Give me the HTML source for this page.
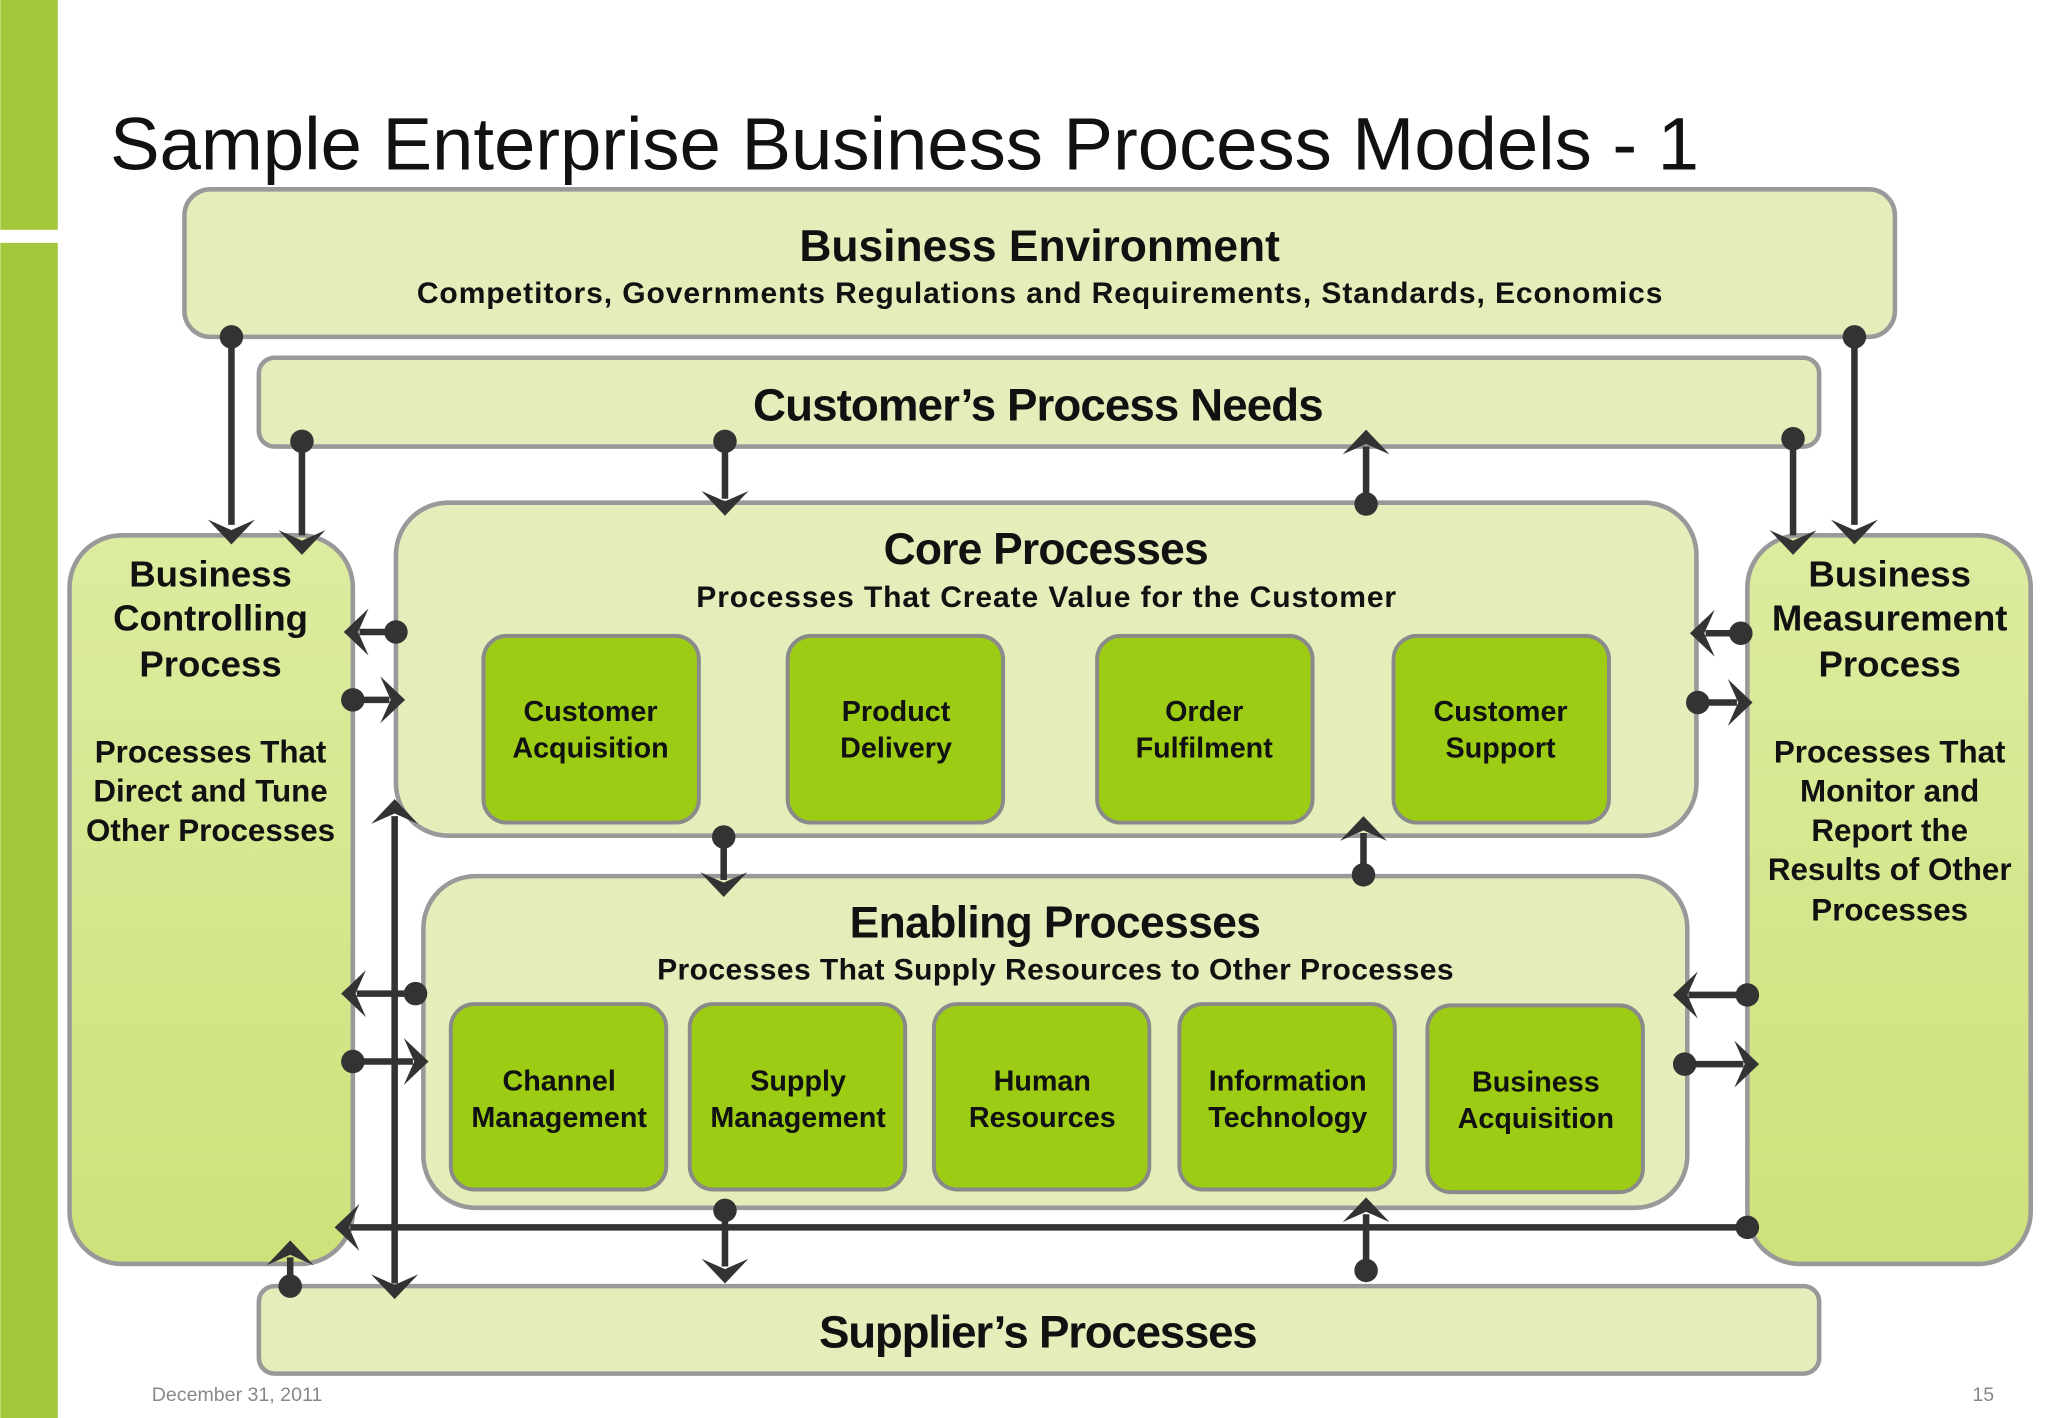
<!DOCTYPE html>
<html><head><meta charset="utf-8"><style>
html,body{margin:0;padding:0;background:#fff;}
svg{display:block;}
text{font-family:"Liberation Sans","DejaVu Sans",sans-serif;}
.b{font-weight:bold;fill:#111;}
</style></head><body>
<svg width="2048" height="1418" viewBox="0 0 1568 1086" xmlns="http://www.w3.org/2000/svg">
<defs>
<path id="ah" d="M0 0 L-18 -19 L0 -11 L18 -19 Z" fill="#333"/>
<linearGradient id="side" x1="0" y1="0" x2="0" y2="1"><stop offset="0" stop-color="#dcecA0"/><stop offset="1" stop-color="#cde27a"/></linearGradient>
</defs>
<rect x="0" y="0" width="44" height="176" fill="#a2c73b"/>
<rect x="0" y="186" width="44" height="900" fill="#a2c73b"/>
<text x="84" y="130" font-size="57" fill="#111" textLength="1217">Sample Enterprise Business Process Models - 1</text>

<g stroke="#999" stroke-width="3.5">
<rect x="141" y="145" width="1310" height="113" rx="20" fill="#e3eebb"/>
<rect x="198" y="274" width="1195" height="68" rx="12" fill="#e3eebb"/>
<rect x="303" y="385" width="996" height="255" rx="40" fill="#e3eebb"/>
<rect x="324" y="671" width="968" height="254" rx="40" fill="#e3eebb"/>
<rect x="53" y="410" width="217" height="558" rx="40" fill="url(#side)"/>
<rect x="1338" y="410" width="217" height="558" rx="40" fill="url(#side)"/>
<rect x="198" y="985" width="1195" height="67" rx="12" fill="#e3eebb"/>
</g>
<g stroke="#8a8a8a" stroke-width="3" fill="#9ccc14">
<rect x="370" y="487" width="165" height="143" rx="18"/>
<rect x="603" y="487" width="165" height="143" rx="18"/>
<rect x="840" y="487" width="165" height="143" rx="18"/>
<rect x="1067" y="487" width="165" height="143" rx="18"/>
<rect x="345" y="769" width="165" height="142" rx="18"/>
<rect x="528" y="769" width="165" height="142" rx="18"/>
<rect x="715" y="769" width="165" height="142" rx="18"/>
<rect x="903" y="769" width="165" height="142" rx="18"/>
<rect x="1093" y="770" width="165" height="143" rx="18"/>
</g>

<g class="b" text-anchor="middle">
<text x="796" y="200" font-size="34" textLength="368">Business Environment</text>
<text x="796" y="232" font-size="23" textLength="954">Competitors, Governments Regulations and Requirements, Standards, Economics</text>
<text x="795" y="322" font-size="35" textLength="437">Customer’s Process Needs</text>
<text x="801" y="432" font-size="34" textLength="249">Core Processes</text>
<text x="801" y="465" font-size="23" textLength="536">Processes That Create Value for the Customer</text>
<text x="808" y="718" font-size="34" textLength="315">Enabling Processes</text>
<text x="808" y="750" font-size="23" textLength="610">Processes That Supply Resources to Other Processes</text>
<text x="795" y="1032" font-size="35" textLength="336">Supplier’s Processes</text>
<g font-size="22">
<text x="452" y="552">Customer</text><text x="452" y="580">Acquisition</text>
<text x="686" y="552">Product</text><text x="686" y="580">Delivery</text>
<text x="922" y="552">Order</text><text x="922" y="580">Fulfilment</text>
<text x="1149" y="552">Customer</text><text x="1149" y="580">Support</text>
<text x="428" y="835">Channel</text><text x="428" y="863">Management</text>
<text x="611" y="835">Supply</text><text x="611" y="863">Management</text>
<text x="798" y="835">Human</text><text x="798" y="863">Resources</text>
<text x="986" y="835">Information</text><text x="986" y="863">Technology</text>
<text x="1176" y="836">Business</text><text x="1176" y="864">Acquisition</text>
</g>
<g font-size="28">
<text x="161" y="449">Business</text><text x="161" y="483">Controlling</text><text x="161" y="518">Process</text>
<text x="1447" y="449">Business</text><text x="1447" y="483">Measurement</text><text x="1447" y="518">Process</text>
</g>
<g font-size="24">
<text x="161" y="584">Processes That</text><text x="161" y="614">Direct and Tune</text><text x="161" y="644">Other Processes</text>
<text x="1447" y="584">Processes That</text><text x="1447" y="614">Monitor and</text><text x="1447" y="644">Report the</text><text x="1447" y="674">Results of Other</text><text x="1447" y="705">Processes</text>
</g>
</g>

<g stroke="#333" stroke-width="5" fill="none">
<path d="M177 258V402M231 338V410M555 338V382M1046 386V342M1373 336V410M1420 258V402"/>
<path d="M303 484H275M270 536H298M1333 485H1306M1300 538H1330"/>
<path d="M554 641V674M1044 670V638"/>
<path d="M318 761H273M270 813H316M1338 762H1293M1290 815H1335"/>
<path d="M268 940H1338M555 927V970M1046 973V930M222 985V963M302 625V983"/>
</g>
<g fill="#333">
<circle cx="177" cy="258" r="9"/><circle cx="231" cy="338" r="9"/><circle cx="555" cy="338" r="9"/><circle cx="1046" cy="386" r="9"/><circle cx="1373" cy="336" r="9"/><circle cx="1420" cy="258" r="9"/>
<circle cx="303" cy="484" r="9"/><circle cx="270" cy="536" r="9"/><circle cx="1333" cy="485" r="9"/><circle cx="1300" cy="538" r="9"/>
<circle cx="554" cy="641" r="9"/><circle cx="1044" cy="670" r="9"/>
<circle cx="318" cy="761" r="9"/><circle cx="270" cy="813" r="9"/><circle cx="1338" cy="762" r="9"/><circle cx="1290" cy="815" r="9"/>
<circle cx="1338" cy="940" r="9"/><circle cx="555" cy="927" r="9"/><circle cx="1046" cy="973" r="9"/><circle cx="222" cy="985" r="9"/>
</g>
<use href="#ah" transform="translate(177,417)"/>
<use href="#ah" transform="translate(231,425)"/>
<use href="#ah" transform="translate(555,395)"/>
<use href="#ah" transform="translate(1373,425)"/>
<use href="#ah" transform="translate(1420,417)"/>
<use href="#ah" transform="translate(554,687)"/>
<use href="#ah" transform="translate(555,983)"/>
<use href="#ah" transform="translate(302,995)"/>
<use href="#ah" transform="translate(1046,329) rotate(180)"/>
<use href="#ah" transform="translate(1044,625) rotate(180)"/>
<use href="#ah" transform="translate(1046,917) rotate(180)"/>
<use href="#ah" transform="translate(222,950) rotate(180)"/>
<use href="#ah" transform="translate(302,612) rotate(180)"/>
<use href="#ah" transform="translate(263,484) rotate(90)"/>
<use href="#ah" transform="translate(1294,485) rotate(90)"/>
<use href="#ah" transform="translate(261,761) rotate(90)"/>
<use href="#ah" transform="translate(1281,762) rotate(90)"/>
<use href="#ah" transform="translate(256,940) rotate(90)"/>
<use href="#ah" transform="translate(310,536) rotate(-90)"/>
<use href="#ah" transform="translate(1342,538) rotate(-90)"/>
<use href="#ah" transform="translate(328,813) rotate(-90)"/>
<use href="#ah" transform="translate(1347,815) rotate(-90)"/>

<text x="116" y="1073" font-size="15" fill="#888">December 31, 2011</text>
<text x="1527" y="1073" font-size="15" fill="#888" text-anchor="end">15</text>
</svg>
</body></html>
